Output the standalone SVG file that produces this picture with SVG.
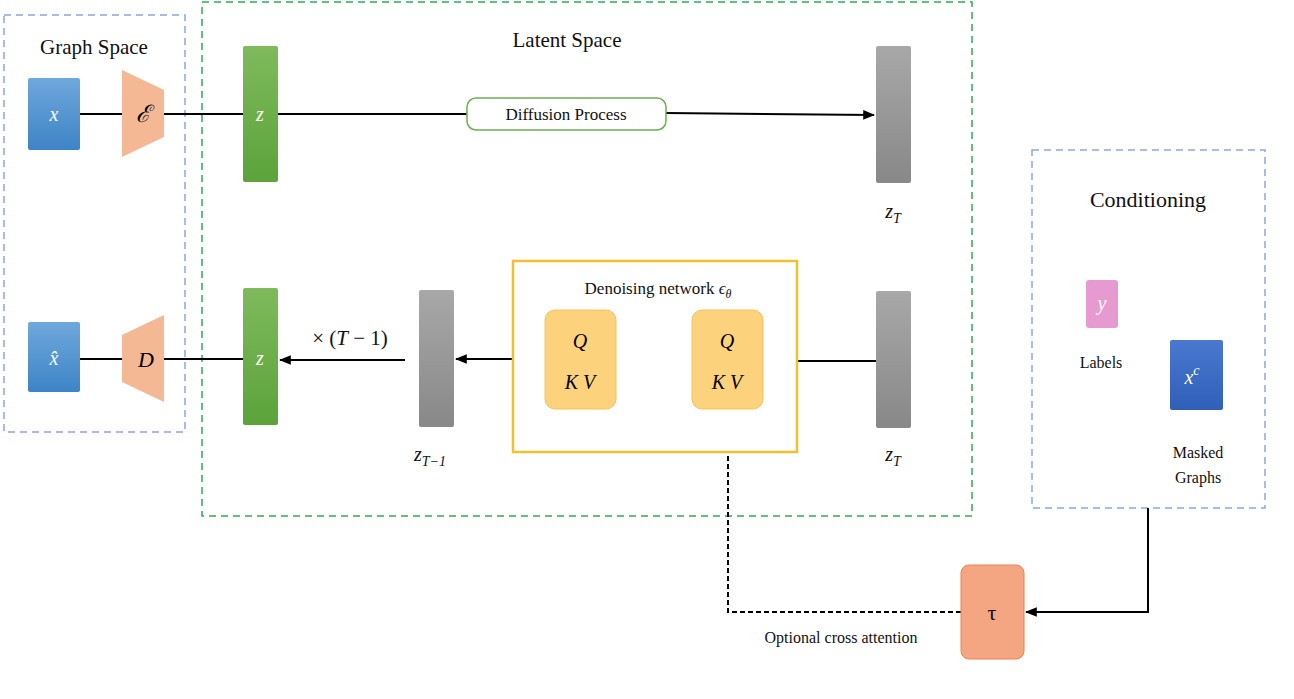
<svg xmlns="http://www.w3.org/2000/svg" width="1294" height="699" viewBox="0 0 1294 699">
<style>
.t{font-family:"Liberation Serif",serif;fill:#111}
.m{font-family:"Liberation Serif",serif;font-style:italic}
.ln{stroke:#000;stroke-width:2;fill:none}
</style>
<defs>
<linearGradient id="gb" x1="0" y1="0" x2="0" y2="1"><stop offset="0" stop-color="#6fa8dc"/><stop offset="1" stop-color="#3d84c6"/></linearGradient>
<linearGradient id="gg" x1="0" y1="0" x2="0" y2="1"><stop offset="0" stop-color="#7fba5c"/><stop offset="1" stop-color="#5ba33a"/></linearGradient>
<linearGradient id="gr" x1="0" y1="0" x2="0" y2="1"><stop offset="0" stop-color="#a8a8a8"/><stop offset="1" stop-color="#888"/></linearGradient>
<linearGradient id="gd" x1="0" y1="0" x2="0" y2="1"><stop offset="0" stop-color="#4a78cf"/><stop offset="1" stop-color="#2f5fb8"/></linearGradient>
<marker id="a" viewBox="0 0 10 10" refX="9" refY="5" markerWidth="6" markerHeight="6" orient="auto"><path d="M0,1 L10,5 L0,9 z" fill="#000"/></marker>
</defs>
<rect width="1294" height="699" fill="#fff"/>
<g id="graph-space"><rect x="4" y="15" width="181" height="417" fill="none" stroke="#8fa6d8" stroke-width="1.5" stroke-dasharray="7,5"/><text class="t" x="94" y="54" font-size="21" text-anchor="middle">Graph Space</text></g>
<g id="latent-space"><rect x="202" y="2" width="770" height="514" fill="none" stroke="#2eaa5a" stroke-width="1.5" stroke-dasharray="7,5"/><text class="t" x="567" y="47" font-size="21" text-anchor="middle">Latent Space</text></g>
<g id="conditioning"><rect x="1032" y="150" width="233" height="358" fill="none" stroke="#8fa6d8" stroke-width="1.5" stroke-dasharray="7,5"/><text class="t" x="1148" y="207" font-size="22" text-anchor="middle">Conditioning</text></g>
<g id="connectors">
<path class="ln" d="M80,114 H122 M164,114 H243 M278,114 H467"/>
<path class="ln" d="M666,113 L874,115" marker-end="url(#a)"/>
<path class="ln" d="M876,361 H765" marker-end="url(#a)"/>
<path class="ln" d="M692,361 H618" marker-end="url(#a)"/>
<path class="ln" d="M545,359 H456" marker-end="url(#a)"/>
<path class="ln" d="M405,360 H280" marker-end="url(#a)"/>
<path class="ln" d="M80,359 H122 M164,359 H243"/>
<path class="ln" d="M1148,508 V612 H1026" marker-end="url(#a)"/>
<path class="ln" d="M961,612 H728 V411" stroke-dasharray="5,3" marker-end="url(#a)"/>
</g>
<g id="x"><rect x="28" y="78" width="52" height="72" rx="2" fill="url(#gb)"/><text class="m" x="54" y="121" font-size="20" fill="#fff" text-anchor="middle">x</text></g>
<g id="xhat"><rect x="28" y="322" width="52" height="70" rx="2" fill="url(#gb)"/><text class="m" x="54" y="365" font-size="20" fill="#fff" text-anchor="middle">x̂</text></g>
<g id="encoder"><path d="M122,70 L164,90 V137 L122,157 z" fill="#f4b994"/><text class="m" x="143" y="122" font-size="24" text-anchor="middle">ℰ</text></g>
<g id="decoder"><path d="M122,335 L164,315 V402 L122,382 z" fill="#f4b994"/><text class="m" x="146" y="367" font-size="22" text-anchor="middle">D</text></g>
<g id="z1"><rect x="243" y="46" width="35" height="136" rx="2" fill="url(#gg)"/><text class="m" x="260" y="121" font-size="20" fill="#fff" text-anchor="middle">z</text></g>
<g id="z2"><rect x="243" y="288" width="35" height="137" rx="2" fill="url(#gg)"/><text class="m" x="260" y="365" font-size="20" fill="#fff" text-anchor="middle">z</text></g>
<g id="diffusion"><rect x="467" y="98" width="199" height="32" rx="9" fill="#fff" stroke="#6ab04c" stroke-width="1.5"/><text class="t" x="566" y="120" font-size="17" text-anchor="middle">Diffusion Process</text></g>
<g id="zT1"><rect x="876" y="46" width="35" height="137" rx="2" fill="url(#gr)"/><text class="m" x="893" y="218" font-size="20" fill="#111" text-anchor="middle">z<tspan font-size="14" dy="5">T</tspan></text></g>
<g id="zT2"><rect x="876" y="291" width="35" height="137" rx="2" fill="url(#gr)"/><text class="m" x="893" y="461" font-size="20" fill="#111" text-anchor="middle">z<tspan font-size="14" dy="5">T</tspan></text></g>
<g id="zTm1"><rect x="419" y="290" width="35" height="137" rx="2" fill="url(#gr)"/><text class="m" x="430" y="461" font-size="20" fill="#111" text-anchor="middle">z<tspan font-size="14" dy="5">T−1</tspan></text></g>
<text class="t" x="350" y="345" font-size="21" text-anchor="middle">× (<tspan font-style="italic">T</tspan> − 1)</text>
<g id="denoise"><rect x="513" y="261" width="284" height="191" fill="#fff" stroke="#f2bf30" stroke-width="2.5"/><text class="t" x="658" y="294" font-size="17" text-anchor="middle">Denoising network <tspan font-style="italic">ϵ</tspan><tspan font-style="italic" font-size="12" dy="4">θ</tspan></text>
<rect x="545" y="310" width="71" height="99" rx="10" fill="#fdd27c" stroke="#f5c35a"/><text class="m" x="580" y="348" font-size="20" text-anchor="middle">Q</text><text class="m" x="580" y="389" font-size="20" text-anchor="middle">K V</text>
<rect x="692" y="310" width="71" height="99" rx="10" fill="#fdd27c" stroke="#f5c35a"/><text class="m" x="727" y="348" font-size="20" text-anchor="middle">Q</text><text class="m" x="727" y="389" font-size="20" text-anchor="middle">K V</text></g>
<g id="y"><rect x="1086" y="280" width="32" height="48" rx="3" fill="#e79ad0"/><text class="m" x="1102" y="310" font-size="20" fill="#fff" text-anchor="middle">y</text><text class="t" x="1101" y="368" font-size="16" text-anchor="middle">Labels</text></g>
<g id="xc"><rect x="1170" y="340" width="53" height="70" rx="2" fill="url(#gd)"/><text class="m" x="1192" y="384" font-size="20" fill="#fff" text-anchor="middle">x<tspan font-size="14" dy="-9">c</tspan></text><text class="t" x="1198" y="458" font-size="16" text-anchor="middle">Masked</text><text class="t" x="1198" y="483" font-size="16" text-anchor="middle">Graphs</text></g>
<g id="tau"><rect x="961" y="565" width="63" height="94" rx="8" fill="#f4a582" stroke="#f08050"/><text class="t" x="992" y="620" font-size="22" text-anchor="middle">τ</text></g>
<text class="t" x="841" y="643" font-size="16" text-anchor="middle">Optional cross attention</text>
</svg>
